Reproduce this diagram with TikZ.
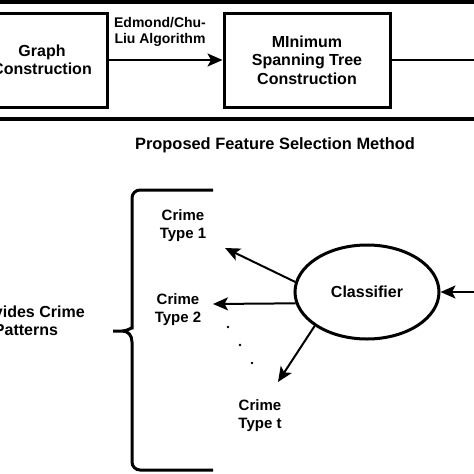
\documentclass[tikz,border=0pt]{standalone}
\usepackage{fontspec}
\setmainfont{Liberation Sans}
\usetikzlibrary{arrows.meta,shapes.geometric}

\tikzset{
  box/.style={draw,line width=3pt,minimum height=94pt,align=center,
    font=\bfseries\fontsize{16}{18.5}\selectfont},
  arr/.style={line width=2pt,-{Stealth[length=15pt,width=13pt,inset=3.5pt]}},
  crime/.style={align=center,font=\bfseries\fontsize{15}{18}\selectfont},
}

\begin{document}
\begin{tikzpicture}[x=1pt,y=-1pt]

\useasboundingbox (0,0) rectangle (474,474);
\clip (0,0) rectangle (474,474);

\draw[line width=4pt] (-20,2) rectangle (494,119);

\node[box,minimum width=130pt] (graph) at (42,60) {Graph\\Construction};
\node[box,minimum width=166pt] (mst) at (307,60) {MInimum\\Spanning Tree\\Construction};
\coordinate (out) at (480,60);

\draw[arr] (graph) -- (mst);
\node[align=center,font=\bfseries\fontsize{14}{15.5}\selectfont] (algo) at (160,32)
    {Edmond/Chu-\\Liu Algorithm};
\draw[line width=2pt] (mst) -- (out);

\node[font=\bfseries\fontsize{16.4}{19}\selectfont] (title) at (275,145)
    {Proposed Feature Selection Method};

\node[align=center,font=\bfseries\fontsize{16}{18}\selectfont] (patt) at (26,321)
    {Provides Crime\\Patterns};

\draw[line width=3pt,rounded corners=8pt] (213,190) -- (132,190) -- (132,320)
    [sharp corners] .. controls (132,327) and (128,331) .. (122,331) -- (113,331)
    -- (122,331) .. controls (128,331) and (132,335) .. (132,342)
    [rounded corners=8pt] -- (132,470) -- (213,470);

\node[crime] (c1) at (183,226) {Crime\\Type 1};
\node[crime] (c2) at (178,310) {Crime\\Type 2};
\node[crime] (ct) at (260,416) {Crime\\Type t};

\node[draw,ellipse,line width=3pt,minimum width=144pt,minimum height=94pt,
    font=\bfseries\fontsize{16}{19}\selectfont] (clf) at (367,292) {Classifier};

\coordinate (tip1) at (225,248);
\coordinate (tip2) at (213,304);
\coordinate (tipt) at (278,382);
\coordinate (inR) at (480,292);

\draw[arr] (clf.172) -- (tip1);
\draw[arr] (clf.189) -- (tip2);
\draw[arr] (clf.213) -- (tipt);
\draw[arr] (inR) -- (clf.east);

\foreach \dx/\dy in {228/327,240/345,252/363}
    \fill (\dx,\dy) circle (1.3);

\end{tikzpicture}
\end{document}
